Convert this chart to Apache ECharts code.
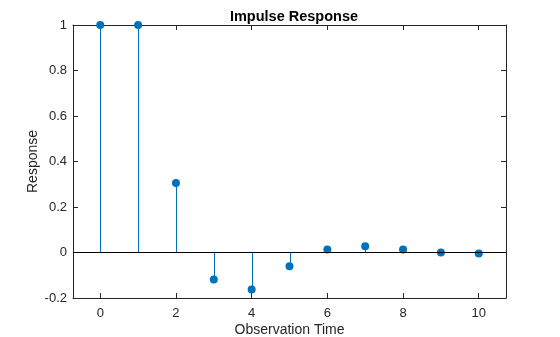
<!DOCTYPE html>
<html>
<head>
<meta charset="utf-8">
<script src="https://cdn.jsdelivr.net/npm/echarts@6/dist/echarts.min.js"></script>
<style>html,body{margin:0;padding:0;background:#fff}#c{width:560px;height:337px}</style>
</head>
<body>
<div id="c"></div>
<script>
const times = [0, 1, 2, 3, 4, 5, 6, 7, 8, 9, 10];
const responses = [1, 1, 0.305, -0.119, -0.163, -0.060, 0.013, 0.028, 0.013, 0.0, -0.004];
const xTicks = [0, 2, 4, 6, 8, 10];
const yTicks = [-0.2, 0, 0.2, 0.4, 0.6, 0.8, 1];

const axisColor = '#262626';
const stemColor = '#0072BD';
const font = 'Liberation Sans, Arial, Helvetica, sans-serif';
const data = times.map((t, i) => [t, responses[i]]);

const chart = echarts.init(document.getElementById('c'));
const baseX = {
  type: 'value', min: -0.72, max: 10.72,
  axisLine: { show: true, onZero: false, lineStyle: { color: axisColor, width: 1 } },
  axisTick: { show: true, inside: true, length: 5, customValues: xTicks, lineStyle: { color: axisColor } },
  splitLine: { show: false }
};
const baseY = {
  type: 'value', min: -0.2, max: 1,
  axisLine: { show: true, onZero: false, lineStyle: { color: axisColor, width: 1 } },
  axisTick: { show: true, inside: true, length: 5, customValues: yTicks, lineStyle: { color: axisColor } },
  splitLine: { show: false }
};
chart.setOption({
  animation: false,
  title: {
    text: 'Impulse Response', left: 289, top: 4, textAlign: 'center',
    textStyle: { fontFamily: font, fontSize: 14.5, fontWeight: 'bold', color: '#000' }
  },
  grid: { left: 73, right: 54, top: 25, bottom: 39, outerBoundsMode: 'none', containLabel: false },
  xAxis: [
    Object.assign({}, baseX, {
      position: 'bottom',
      name: 'Observation Time', nameLocation: 'middle', nameGap: 25, nameMoveOverlap: false,
      nameTextStyle: { fontFamily: font, fontSize: 14, color: axisColor },
      axisLabel: { show: true, customValues: xTicks, margin: 9, fontFamily: font, fontSize: 13, color: axisColor }
    }),
    Object.assign({}, baseX, { position: 'top', axisLabel: { show: false } })
  ],
  yAxis: [
    Object.assign({}, baseY, {
      position: 'left',
      name: 'Response', nameLocation: 'middle', nameGap: 33, nameMoveOverlap: false,
      nameTextStyle: { fontFamily: font, fontSize: 14, color: axisColor },
      axisLabel: { show: true, customValues: yTicks, margin: 6, fontFamily: font, fontSize: 13, color: axisColor }
    }),
    Object.assign({}, baseY, { position: 'right', axisLabel: { show: false } })
  ],
  series: [
    {
      type: 'custom',
      xAxisIndex: 0, yAxisIndex: 0,
      data: data,
      renderItem: function (params, api) {
        const p0 = api.coord([api.value(0), 0]);
        const p1 = api.coord([api.value(0), api.value(1)]);
        return {
          type: 'line',
          shape: { x1: Math.round(p0[0]) + 0.5, y1: p0[1], x2: Math.round(p1[0]) + 0.5, y2: p1[1] },
          style: { stroke: stemColor, lineWidth: 1 }
        };
      },
      markLine: {
        silent: true, symbol: 'none', label: { show: false },
        lineStyle: { color: '#000', type: 'solid', width: 1 },
        data: [{ yAxis: 0 }]
      },
      z: 2
    },
    {
      type: 'scatter',
      xAxisIndex: 0, yAxisIndex: 0,
      data: data,
      symbol: 'circle', symbolSize: 8,
      itemStyle: { color: stemColor, opacity: 1 },
      z: 3
    }
  ]
});
</script>
</body>
</html>
